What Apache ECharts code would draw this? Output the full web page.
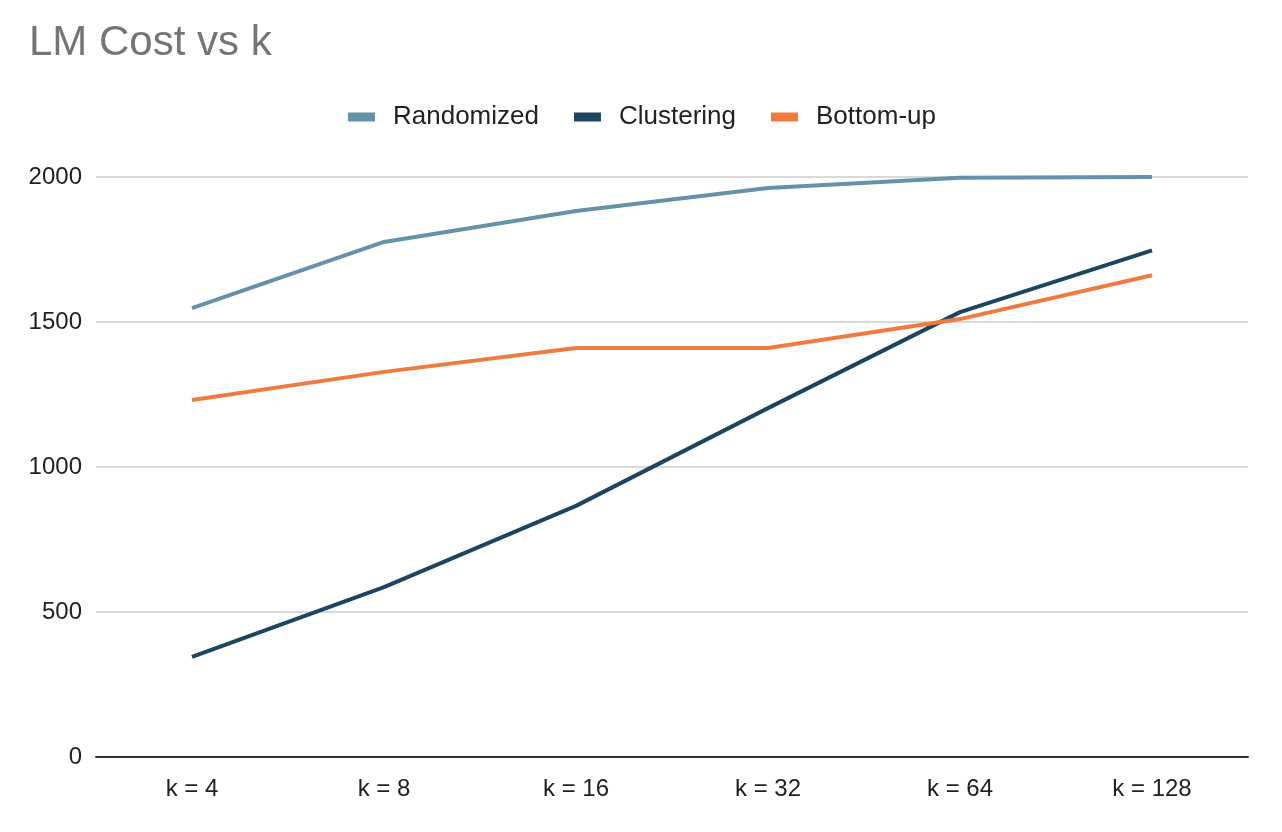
<!DOCTYPE html>
<html>
<head>
<meta charset="utf-8">
<script src="https://cdn.jsdelivr.net/npm/echarts@6/dist/echarts.min.js"></script>
<style>
html,body{margin:0;padding:0;background:#fff;}
#chart{width:1282px;height:832px;}
</style>
</head>
<body>
<div id="chart"></div>
<script>
const categories = ["k = 4", "k = 8", "k = 16", "k = 32", "k = 64", "k = 128"];
const randomized = [1548, 1776, 1883, 1962, 1997, 2000];
const clustering = [345, 586, 866, 1203, 1534, 1747];
const bottomUp = [1231, 1328, 1410, 1410, 1510, 1661];
const seriesNames = ["Randomized", "Clustering", "Bottom-up"];
const colors = ["#6591ab", "#1c4561", "#f07b3f"];

const chart = echarts.init(document.getElementById('chart'));
const font = '"Liberation Sans", Arial, sans-serif';
chart.setOption({
  animation: false,
  color: colors,
  title: {
    text: 'LM Cost vs k',
    left: 24,
    top: 17,
    textStyle: {fontFamily: font, fontSize: 42, fontWeight: 'normal', color: '#757575'}
  },
  legend: {
    data: seriesNames,
    top: 99,
    left: 343,
    icon: 'rect',
    itemWidth: 27,
    itemHeight: 9,
    itemGap: 35,
    textStyle: {fontFamily: font, fontSize: 26, color: '#222', padding: [0,0,0,13]}
  },
  grid: {left: 96, right: 34, top: 177, bottom: 75, containLabel: false},
  xAxis: {
    type: 'category',
    data: categories,
    boundaryGap: true,
    axisLine: {lineStyle: {color: '#333', width: 2}},
    axisTick: {show: false},
    axisLabel: {fontFamily: font, fontSize: 24, color: '#222', margin: 20}
  },
  yAxis: {
    type: 'value',
    min: 0,
    max: 2000,
    interval: 500,
    axisLine: {show: false},
    axisTick: {show: false},
    splitLine: {lineStyle: {color: '#cccccc', width: 1.5}},
    axisLabel: {fontFamily: font, fontSize: 24, color: '#222', margin: 14, formatter: v => String(v)}
  },
  series: [
    {name: seriesNames[0], type: 'line', data: randomized, showSymbol: false, lineStyle: {width: 4}},
    {name: seriesNames[1], type: 'line', data: clustering, showSymbol: false, lineStyle: {width: 4}},
    {name: seriesNames[2], type: 'line', data: bottomUp, showSymbol: false, lineStyle: {width: 4}}
  ]
});
</script>
</body>
</html>
